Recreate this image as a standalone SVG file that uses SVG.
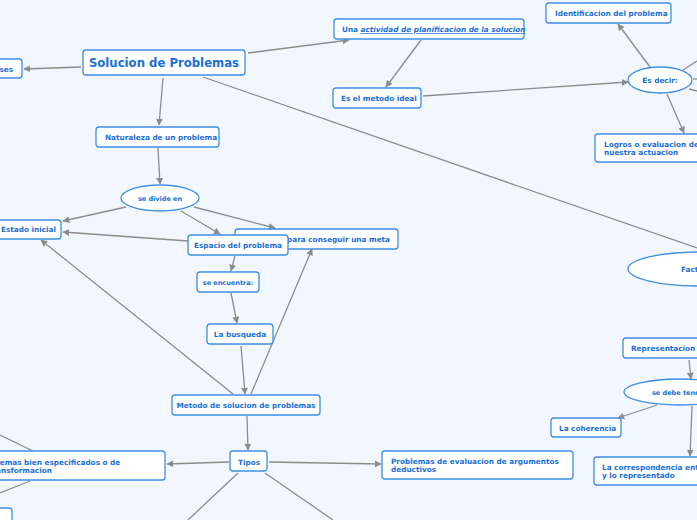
<svg xmlns="http://www.w3.org/2000/svg" width="697" height="520" viewBox="0 0 697 520">
<style>
.n{fill:#fff;stroke:#3c8fe6;stroke-width:1.3}
.t{font-family:"DejaVu Sans",Verdana,sans-serif;font-weight:bold;font-size:7.3px;fill:#1a6fd6}
.c line{stroke:#8c8c8c;stroke-width:1.3}
.a{marker-end:url(#ar)}
</style>
<defs><marker id="ar" viewBox="0 0 10 10" refX="9" refY="5" markerWidth="7" markerHeight="7" markerUnits="userSpaceOnUse" orient="auto"><path d="M0,0L10,5L0,10z" fill="#8c8c8c"/></marker></defs>
<rect width="697" height="520" fill="#f2f6fe"/>
<g class="c">
<line class="a" x1="81" y1="67" x2="24" y2="69"/>
<line class="a" x1="248" y1="53" x2="349" y2="40"/>
<line class="a" x1="421" y1="40" x2="386" y2="87"/>
<line class="a" x1="423" y1="96" x2="628" y2="82"/>
<line class="a" x1="650" y1="67" x2="618" y2="24"/>
<line class="a" x1="667" y1="94" x2="684" y2="133"/>
<line x1="683" y1="70" x2="697" y2="61"/>
<line x1="693" y1="79" x2="697" y2="79"/>
<line x1="689" y1="89" x2="697" y2="91"/>
<line x1="203" y1="77" x2="697" y2="248"/>
<line class="a" x1="163" y1="78" x2="159" y2="125"/>
<line class="a" x1="158" y1="148" x2="160" y2="184"/>
<line class="a" x1="126" y1="207" x2="63" y2="221"/>
<line class="a" x1="181" y1="211" x2="220" y2="234"/>
<line class="a" x1="194" y1="207" x2="275" y2="228"/>
<line class="a" x1="188" y1="241" x2="63" y2="232"/>
<line class="a" x1="235" y1="256" x2="231" y2="271"/>
<line class="a" x1="231" y1="293" x2="237" y2="323"/>
<line class="a" x1="241" y1="346" x2="245" y2="394"/>
<line class="a" x1="233" y1="394" x2="41" y2="240"/>
<line class="a" x1="251" y1="394" x2="312" y2="249"/>
<line class="a" x1="247" y1="416" x2="248" y2="450"/>
<line class="a" x1="229" y1="462" x2="167" y2="464"/>
<line class="a" x1="269" y1="462" x2="381" y2="464"/>
<line x1="238" y1="473" x2="188" y2="520"/>
<line x1="265" y1="473" x2="333" y2="520"/>
<line x1="35" y1="452" x2="0" y2="435"/>
<line x1="30" y1="481" x2="0" y2="493"/>
<line class="a" x1="689" y1="360" x2="691" y2="379"/>
<line class="a" x1="657" y1="405" x2="618" y2="418"/>
<line class="a" x1="692" y1="406" x2="690" y2="456"/>
</g>
<g id="title"><rect class="n" x="83" y="50" width="162" height="25" rx="3"/><text class="t" x="164" y="67" text-anchor="middle" style="font-size:11.7px">Solucion de Problemas</text></g>
<g id="fases"><rect class="n" x="-10" y="59" width="32" height="19" rx="3"/><text class="t" x="-10" y="72">Fases</text></g>
<g id="una"><rect class="n" x="334" y="19" width="190" height="20" rx="3"/><text class="t" x="342" y="32">Una <tspan font-style="italic" text-decoration="underline">actividad de planificacion de la solucion</tspan></text></g>
<g id="ideal"><rect class="n" x="333" y="88" width="88" height="20" rx="3"/><text class="t" x="341" y="101">Es el metodo ideal</text></g>
<g id="ident"><rect class="n" x="546" y="3" width="125" height="20" rx="3"/><text class="t" x="555" y="16">Identificacion del problema</text></g>
<g id="esdecir"><ellipse class="n" cx="660" cy="80" rx="32" ry="13"/><text class="t" x="660" y="83" text-anchor="middle">Es decir:</text></g>
<g id="logros"><rect class="n" x="595" y="134" width="115" height="28" rx="3"/><text class="t" x="604" y="147">Logros o evaluacion de</text><text class="t" x="604" y="155">nuestra actuacion</text></g>
<g id="factores"><ellipse class="n" cx="700" cy="269" rx="72" ry="17"/><text class="t" x="681" y="272">Factores</text></g>
<g id="naturaleza"><rect class="n" x="96" y="127" width="123" height="20" rx="3"/><text class="t" x="105" y="140">Naturaleza de un problema</text></g>
<g id="divide"><ellipse class="n" cx="160" cy="198" rx="39" ry="13"/><text class="t" x="160" y="201" text-anchor="middle" style="font-size:6.5px">se divide en</text></g>
<g id="estado"><rect class="n" x="-10" y="220" width="71" height="19" rx="3"/><text class="t" x="1" y="232">Estado inicial</text></g>
<g id="meta"><rect class="n" x="235" y="229" width="163" height="20" rx="3"/><text class="t" x="390" y="242" text-anchor="end">Operaciones para conseguir una meta</text></g>
<g id="espacio"><rect class="n" x="188" y="235" width="100" height="20" rx="3"/><text class="t" x="238" y="248" text-anchor="middle">Espacio del problema</text></g>
<g id="encuentra"><rect class="n" x="197" y="272" width="62" height="20" rx="3"/><text class="t" x="228" y="285" text-anchor="middle" style="font-size:6.5px">se encuentra:</text></g>
<g id="busqueda"><rect class="n" x="207" y="324" width="66" height="20" rx="3"/><text class="t" x="240" y="337" text-anchor="middle">La busqueda</text></g>
<g id="metodo"><rect class="n" x="172" y="395" width="148" height="20" rx="3"/><text class="t" x="246" y="408" text-anchor="middle">Metodo de solucion de problemas</text></g>
<g id="tipos"><rect class="n" x="230" y="451" width="37" height="20" rx="3"/><text class="t" x="249" y="465" text-anchor="middle">Tipos</text></g>
<g id="bien"><rect class="n" x="-10" y="451" width="175" height="29" rx="3"/><text class="t" x="-22" y="465">Problemas bien especificados o de</text><text class="t" x="-11" y="473">transformacion</text></g>
<g id="small"><rect class="n" x="-10" y="508" width="22" height="20" rx="3"/></g>
<g id="eval"><rect class="n" x="382" y="451" width="191" height="28" rx="3"/><text class="t" x="391" y="464">Problemas de evaluacion de argumentos</text><text class="t" x="391" y="472">deductivos</text></g>
<g id="repr"><rect class="n" x="623" y="338" width="90" height="20" rx="3"/><text class="t" x="631" y="351">Representacion del problema</text></g>
<g id="debe"><ellipse class="n" cx="680" cy="392" rx="56" ry="13"/><text class="t" x="652" y="395" style="font-size:6.5px">se debe tener en cuenta</text></g>
<g id="coherencia"><rect class="n" x="551" y="418" width="70" height="19" rx="3"/><text class="t" x="559" y="431">La coherencia</text></g>
<g id="corresp"><rect class="n" x="594" y="457" width="115" height="28" rx="3"/><text class="t" x="602" y="470">La correspondencia entre</text><text class="t" x="602" y="478">y lo representado</text></g>
</svg>
